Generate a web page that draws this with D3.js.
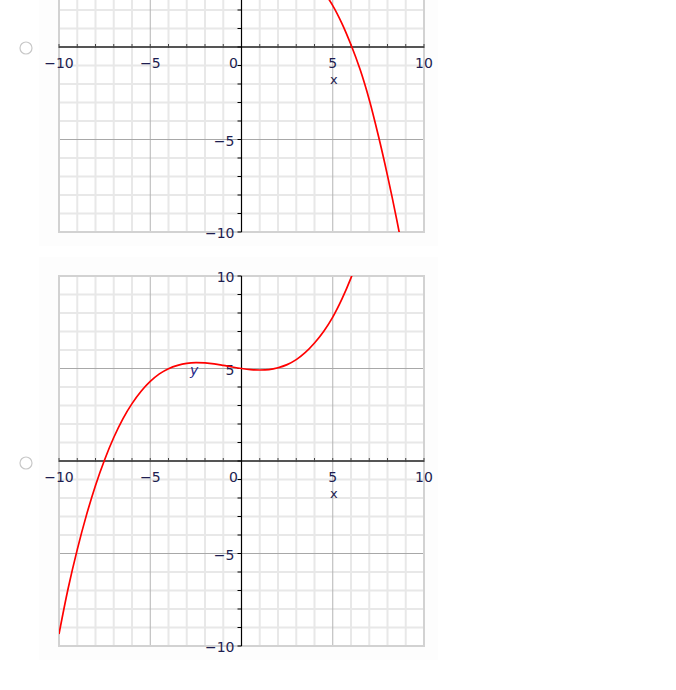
<!DOCTYPE html>
<html>
<head>
<meta charset="utf-8">
<script src="https://d3js.org/d3.v7.min.js"></script>
<style>
  body { margin: 0; background: #fff; }
  text { font-family: "DejaVu Sans", Verdana, sans-serif; }
</style>
</head>
<body>
<div id="vis"></div>
<script>

// x positions shared by both curves
var xs = [-10, -9.5, -9, -8.5, -8, -7.5, -7, -6.5, -6, -5.5, -5, -4.5, -4, -3.5, -3, -2.5, -2, -1.5, -1, -0.5,
          0, 0.5, 1, 1.5, 2, 2.5, 3, 3.5, 4, 4.5, 5, 5.5, 6, 6.5, 7, 7.5, 8, 8.5, 9];

// first choice (decreasing curve)
var topValues = [19.35, 16.89, 14.79, 12.94, 11.32, 9.93, 8.73, 7.72, 6.90, 6.23, 5.70, 5.29, 5.01, 4.83, 4.72, 4.68, 4.70, 4.75, 4.83, 4.92,
                 5.00, 5.06, 5.08, 5.06, 4.96, 4.79, 4.52, 4.13, 3.62, 2.99, 2.24, 1.28, 0.12, -1.22, -2.85, -4.8, -6.95, -9.3, -11.9];

// second choice (increasing curve)
var bottomValues = [-9.35, -6.89, -4.79, -2.94, -1.32, 0.07, 1.27, 2.28, 3.10, 3.77, 4.30, 4.71, 4.99, 5.17, 5.28, 5.32, 5.30, 5.25, 5.17, 5.08,
                    5.00, 4.94, 4.92, 4.94, 5.04, 5.21, 5.48, 5.87, 6.38, 7.00, 7.78, 8.75, 9.90, 11.25, 12.8, 14.6, 16.8, 19.1, 21.7];

var xTickLabels = [-10, -5, 0, 5, 10];
var yTickLabels = [10, 5, -5, -10];

var W = 676, H = 690;
var svg = d3.select("#vis").append("svg")
  .attr("width", W)
  .attr("height", H);

var x = d3.scaleLinear().domain([-10, 10]).range([59, 424]);
var y = d3.scaleLinear().domain([-10, 10]).range([370, 0]);

var labelColor = "#1e1e50";

function fmt(d) { return d < 0 ? "\u2212" + (-d) : String(d); }

function drawPlot(top, values, id, radioY) {
  var g = svg.append("g").attr("transform", "translate(0," + top + ")");
  // only texts that land inside the window
  function visible(yy) { return top + yy > 6; }

  // faint panel behind the plot
  g.append("rect")
    .attr("x", 39).attr("y", y(10) - 19)
    .attr("width", 399).attr("height", y(-10) - y(10) + 33)
    .attr("fill", "#fdfdfd");

  g.append("clipPath").attr("id", id)
    .append("rect")
    .attr("x", x(-10)).attr("y", y(10))
    .attr("width", x(10) - x(-10)).attr("height", y(-10) - y(10));

  g.append("rect")
    .attr("x", x(-10)).attr("y", y(10))
    .attr("width", x(10) - x(-10)).attr("height", y(-10) - y(10))
    .attr("fill", "#fff");

  var units = d3.range(-10, 11);

  // minor grid
  g.selectAll(".gx").data(units.filter(function(d) { return d % 5 != 0; }))
    .enter().append("line")
    .attr("x1", function(d) { return x(d); }).attr("x2", function(d) { return x(d); })
    .attr("y1", y(10)).attr("y2", y(-10))
    .attr("stroke", "#e8e8e8").attr("stroke-width", 2);
  g.selectAll(".gy").data(units.filter(function(d) { return d % 5 != 0; }))
    .enter().append("line")
    .attr("y1", function(d) { return y(d); }).attr("y2", function(d) { return y(d); })
    .attr("x1", x(-10)).attr("x2", x(10))
    .attr("stroke", "#e8e8e8").attr("stroke-width", 2);

  // major grid
  g.selectAll(".mx").data([-5, 5])
    .enter().append("line")
    .attr("x1", function(d) { return x(d); }).attr("x2", function(d) { return x(d); })
    .attr("y1", y(10)).attr("y2", y(-10))
    .attr("stroke", "#b4b4b4").attr("stroke-width", 1);
  g.selectAll(".my").data([-5, 5])
    .enter().append("line")
    .attr("y1", function(d) { return y(d); }).attr("y2", function(d) { return y(d); })
    .attr("x1", x(-10)).attr("x2", x(10))
    .attr("stroke", "#a8a8a8").attr("stroke-width", 1);

  // frame
  g.append("rect")
    .attr("x", x(-10)).attr("y", y(10))
    .attr("width", x(10) - x(-10)).attr("height", y(-10) - y(10))
    .attr("fill", "none").attr("stroke", "#d2d2d2").attr("stroke-width", 2);

  // x axis
  g.append("line")
    .attr("x1", x(-10)).attr("x2", x(10)).attr("y1", y(0)).attr("y2", y(0))
    .attr("stroke", "#555").attr("stroke-width", 2);
  g.selectAll(".tx").data(units)
    .enter().append("line")
    .attr("x1", function(d) { return x(d); }).attr("x2", function(d) { return x(d); })
    .attr("y1", y(0) - 3).attr("y2", y(0) + 1)
    .attr("stroke", "#444").attr("stroke-width", 1);

  // y axis
  g.append("line")
    .attr("x1", x(0)).attr("x2", x(0)).attr("y1", y(10)).attr("y2", y(-10))
    .attr("stroke", "#000").attr("stroke-width", 1.2);
  g.selectAll(".ty").data(units)
    .enter().append("line")
    .attr("y1", function(d) { return y(d); }).attr("y2", function(d) { return y(d); })
    .attr("x1", x(0) - 4).attr("x2", x(0))
    .attr("stroke", "#000").attr("stroke-width", 1);

  // tick labels
  g.selectAll(".lx").data(xTickLabels)
    .enter().append("text")
    .attr("x", function(d) { return d == 0 ? x(0) - 8 : x(d); })
    .attr("y", y(0) + 21)
    .attr("text-anchor", "middle")
    .attr("font-size", 14)
    .attr("fill", labelColor)
    .text(fmt);
  g.selectAll(".ly").data(yTickLabels.filter(function(d) { return visible(y(d)); }))
    .enter().append("text")
    .attr("x", x(0) - 7)
    .attr("y", function(d) { return y(d) + 6; })
    .attr("text-anchor", "end")
    .attr("font-size", 14)
    .attr("fill", labelColor)
    .text(fmt);

  g.append("text")
    .attr("x", x(5) + 1).attr("y", y(0) + 37)
    .attr("text-anchor", "middle")
    .attr("font-size", 13)
    .attr("fill", labelColor)
    .text("x");
  if (visible(y(5))) {
    g.append("text")
      .attr("x", x(-2.6)).attr("y", y(5) + 6)
      .attr("text-anchor", "middle")
      .attr("font-size", 14)
      .attr("font-style", "italic")
      .attr("fill", "#2a2a8a")
      .text("y");
  }

  // curve
  var pts = xs.map(function(d, i) { return [d, values[i]]; });
  var line = d3.line()
    .x(function(d) { return x(d[0]); })
    .y(function(d) { return y(d[1]); })
    .curve(d3.curveCatmullRom);
  g.append("path")
    .datum(pts)
    .attr("clip-path", "url(#" + id + ")")
    .attr("d", line)
    .attr("fill", "none")
    .attr("stroke", "#ff0000")
    .attr("stroke-width", 1.7);

  // radio button
  svg.append("circle")
    .attr("cx", 26).attr("cy", radioY).attr("r", 6)
    .attr("fill", "#fff").attr("stroke", "#c8c8c8").attr("stroke-width", 1.2);
}

drawPlot(-138, topValues, "clipA", 48);
drawPlot(276, bottomValues, "clipB", 463);

</script>
</body>
</html>
